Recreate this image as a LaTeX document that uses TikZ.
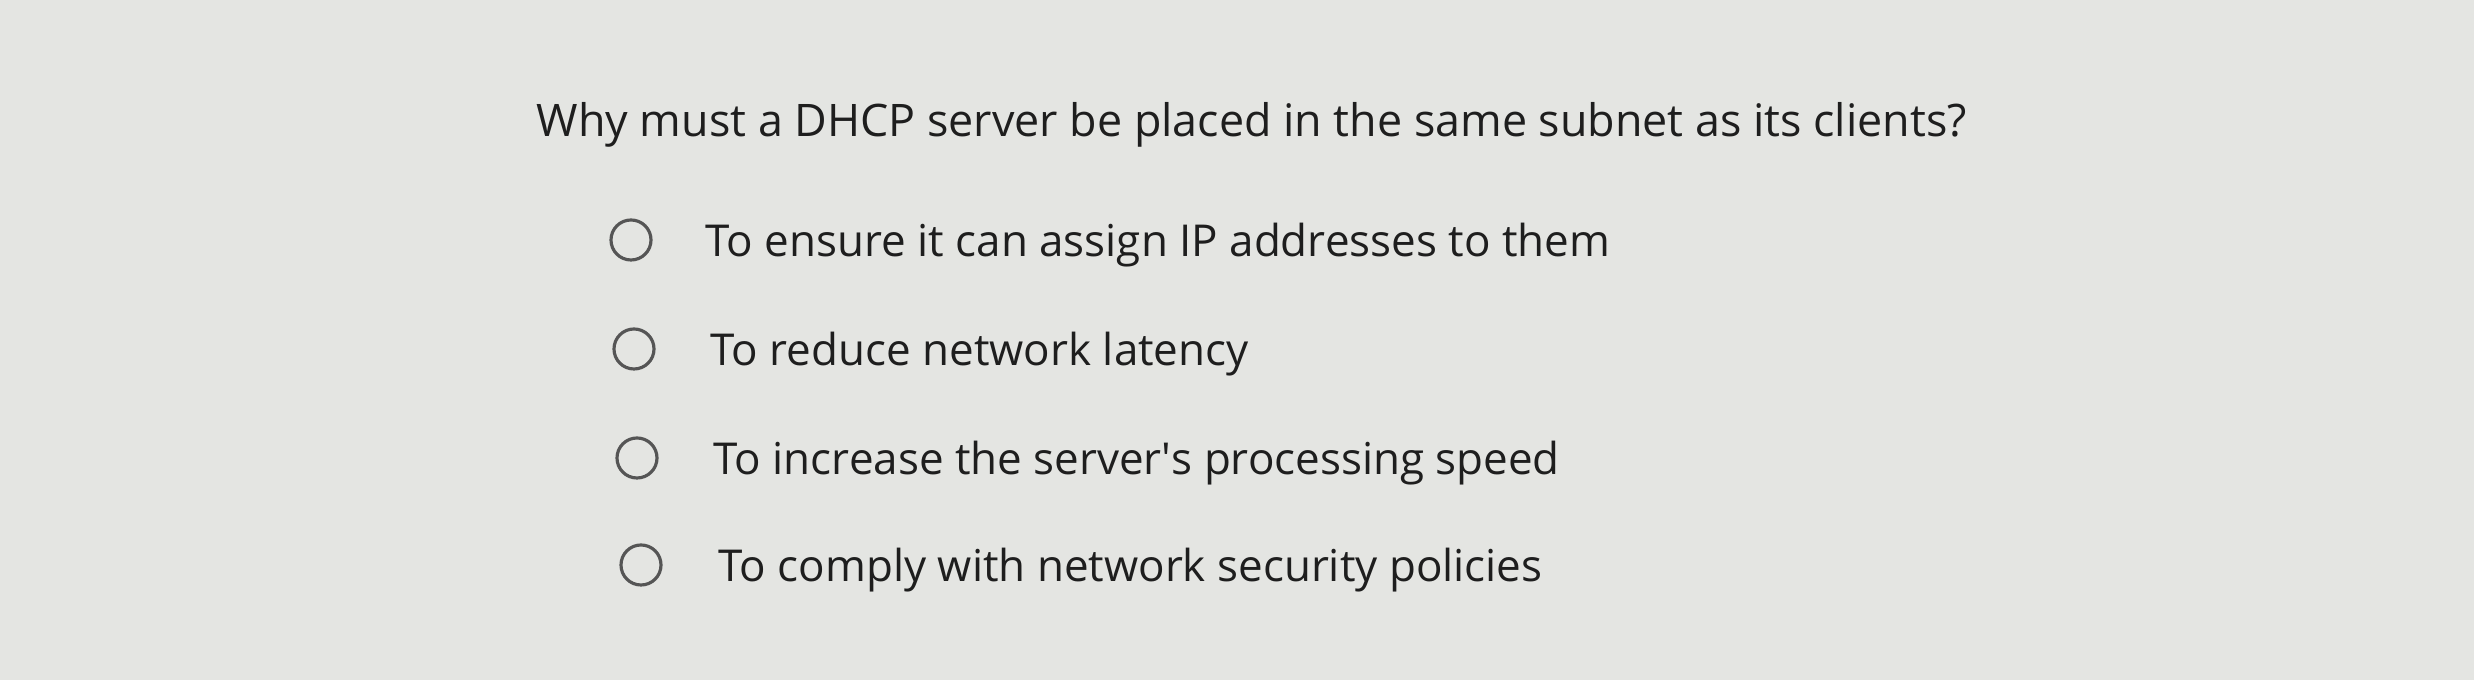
\documentclass[tikz,border=0pt]{standalone}
\usepackage{fontspec}
\setmainfont{Open Sans}
\definecolor{bg}{HTML}{E4E5E2}
\definecolor{ink}{HTML}{1E1E1E}
\definecolor{ring}{HTML}{555555}
\begin{document}
\begin{tikzpicture}[x=0.01cm,y=-0.01cm,
  txt/.style={anchor=west,inner sep=0pt,text=ink,font=\fontsize{12.5}{14}\selectfont},
  radio/.style={circle,draw=ring,line width=0.9pt,minimum size=0.4cm,inner sep=0pt}]
\fill[bg] (0,0) rectangle (2474,680);
\useasboundingbox (0,0) rectangle (2474,680);
\node[txt,font=\fontsize{12.75}{14}\selectfont] (q) at (536,125) {Why must a DHCP server be placed in the same subnet as its clients?};
\node[radio] (r1) at (631,240) {};
\node[radio] (r2) at (634,349) {};
\node[radio] (r3) at (637,458) {};
\node[radio] (r4) at (641,565) {};
\node[txt] (a1) at (705,245) {To ensure it can assign IP addresses to them};
\node[txt] (a2) at (710,354) {To reduce network latency};
\node[txt] (a3) at (713,463) {To increase the server\textquotesingle s processing speed};
\node[txt] (a4) at (718,570) {To comply with network security policies};
\end{tikzpicture}
\end{document}
